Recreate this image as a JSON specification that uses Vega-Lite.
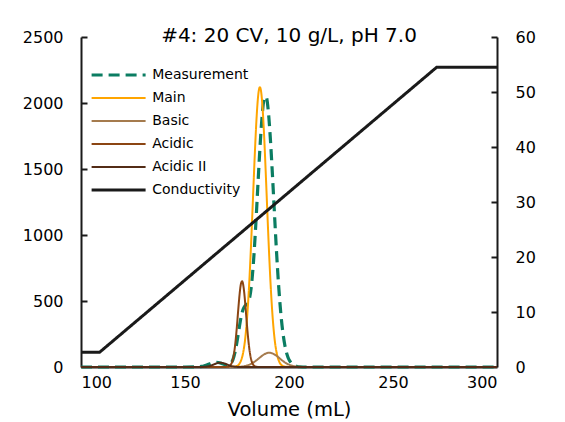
{
  "$schema": "https://vega.github.io/schema/vega-lite/v6.json",
  "width": 416,
  "height": 330,
  "autosize": "none",
  "padding": {"left": 81, "top": 37, "right": 68, "bottom": 55},
  "background": "white",
  "config": {
    "view": {"stroke": null},
    "font": "DejaVu Sans",
    "axis": {"grid": false, "domainColor": "#1a1a1a", "domainWidth": 2, "tickColor": "#1a1a1a", "tickWidth": 2, "labelColor": "#000000", "labelFont": "DejaVu Sans", "labelFontSize": 16, "titleFont": "DejaVu Sans", "titleFontWeight": "normal", "titleColor": "#000000", "format": "d"}
  },
  "title": {"text": "#4: 20 CV, 10 g/L, pH 7.0", "font": "DejaVu Sans", "fontSize": 20, "fontWeight": "normal", "color": "#000000", "anchor": "middle", "offset": -17},
  "data": {"values": [
    {"x":100,"y":0,"s":"Measurement"},{"x":150,"y":0,"s":"Measurement"},{"x":155,"y":1,"s":"Measurement"},{"x":158,"y":5,"s":"Measurement"},{"x":159,"y":8,"s":"Measurement"},{"x":160,"y":13,"s":"Measurement"},{"x":161,"y":18,"s":"Measurement"},{"x":162,"y":24,"s":"Measurement"},{"x":163,"y":30,"s":"Measurement"},{"x":164,"y":34,"s":"Measurement"},{"x":165,"y":35,"s":"Measurement"},{"x":166,"y":34,"s":"Measurement"},{"x":167,"y":30,"s":"Measurement"},{"x":168,"y":24,"s":"Measurement"},{"x":169,"y":18,"s":"Measurement"},{"x":170,"y":15,"s":"Measurement"},{"x":171,"y":15,"s":"Measurement"},{"x":172,"y":26,"s":"Measurement"},{"x":173,"y":54,"s":"Measurement"},{"x":174,"y":109,"s":"Measurement"},{"x":175,"y":191,"s":"Measurement"},{"x":176,"y":290,"s":"Measurement"},{"x":177,"y":381,"s":"Measurement"},{"x":178,"y":439,"s":"Measurement"},{"x":179,"y":466,"s":"Measurement"},{"x":180,"y":478,"s":"Measurement"},{"x":181,"y":519,"s":"Measurement"},{"x":182,"y":627,"s":"Measurement"},{"x":183,"y":813,"s":"Measurement"},{"x":184,"y":1070,"s":"Measurement"},{"x":185,"y":1364,"s":"Measurement"},{"x":186,"y":1651,"s":"Measurement"},{"x":187,"y":1886,"s":"Measurement"},{"x":188,"y":2026,"s":"Measurement"},{"x":189,"y":2047,"s":"Measurement"},{"x":190,"y":1947,"s":"Measurement"},{"x":191,"y":1740,"s":"Measurement"},{"x":192,"y":1467,"s":"Measurement"},{"x":193,"y":1165,"s":"Measurement"},{"x":194,"y":874,"s":"Measurement"},{"x":195,"y":620,"s":"Measurement"},{"x":196,"y":418,"s":"Measurement"},{"x":197,"y":268,"s":"Measurement"},{"x":198,"y":165,"s":"Measurement"},{"x":199,"y":98,"s":"Measurement"},{"x":200,"y":56,"s":"Measurement"},{"x":201,"y":32,"s":"Measurement"},{"x":202,"y":18,"s":"Measurement"},{"x":203,"y":7,"s":"Measurement"},{"x":204,"y":4,"s":"Measurement"},{"x":205,"y":2,"s":"Measurement"},{"x":210,"y":0,"s":"Measurement"},{"x":300,"y":0,"s":"Measurement"},
    {"x":100,"y":0,"s":"Main"},{"x":170,"y":0,"s":"Main"},{"x":174,"y":3,"s":"Main"},{"x":175,"y":8,"s":"Main"},{"x":176,"y":21,"s":"Main"},{"x":177,"y":52,"s":"Main"},{"x":178,"y":112,"s":"Main"},{"x":179,"y":223,"s":"Main"},{"x":180,"y":406,"s":"Main"},{"x":180.5,"y":529,"s":"Main"},{"x":181,"y":673,"s":"Main"},{"x":181.5,"y":837,"s":"Main"},{"x":182,"y":1017,"s":"Main"},{"x":182.5,"y":1208,"s":"Main"},{"x":183,"y":1402,"s":"Main"},{"x":183.5,"y":1591,"s":"Main"},{"x":184,"y":1764,"s":"Main"},{"x":184.5,"y":1912,"s":"Main"},{"x":185,"y":2025,"s":"Main"},{"x":185.5,"y":2096,"s":"Main"},{"x":186,"y":2120,"s":"Main"},{"x":186.5,"y":2096,"s":"Main"},{"x":187,"y":2025,"s":"Main"},{"x":187.5,"y":1912,"s":"Main"},{"x":188,"y":1764,"s":"Main"},{"x":188.5,"y":1591,"s":"Main"},{"x":189,"y":1402,"s":"Main"},{"x":189.5,"y":1208,"s":"Main"},{"x":190,"y":1017,"s":"Main"},{"x":190.5,"y":837,"s":"Main"},{"x":191,"y":673,"s":"Main"},{"x":191.5,"y":529,"s":"Main"},{"x":192,"y":406,"s":"Main"},{"x":193,"y":223,"s":"Main"},{"x":194,"y":112,"s":"Main"},{"x":195,"y":52,"s":"Main"},{"x":196,"y":21,"s":"Main"},{"x":197,"y":8,"s":"Main"},{"x":198,"y":3,"s":"Main"},{"x":202,"y":0,"s":"Main"},{"x":300,"y":0,"s":"Main"},
    {"x":100,"y":0,"s":"Basic"},{"x":170,"y":0,"s":"Basic"},{"x":174,"y":0.5,"s":"Basic"},{"x":176,"y":1.6,"s":"Basic"},{"x":178,"y":4.7,"s":"Basic"},{"x":180,"y":12,"s":"Basic"},{"x":182,"y":25.5,"s":"Basic"},{"x":184,"y":46,"s":"Basic"},{"x":186,"y":72,"s":"Basic"},{"x":188,"y":95,"s":"Basic"},{"x":190,"y":107.5,"s":"Basic"},{"x":191,"y":107.5,"s":"Basic"},{"x":192,"y":103,"s":"Basic"},{"x":194,"y":85,"s":"Basic"},{"x":196,"y":59,"s":"Basic"},{"x":198,"y":35,"s":"Basic"},{"x":200,"y":18,"s":"Basic"},{"x":202,"y":7.7,"s":"Basic"},{"x":204,"y":2.8,"s":"Basic"},{"x":206,"y":0.9,"s":"Basic"},{"x":210,"y":0,"s":"Basic"},{"x":300,"y":0,"s":"Basic"},
    {"x":100,"y":0,"s":"Acidic"},{"x":168,"y":0,"s":"Acidic"},{"x":170,"y":1,"s":"Acidic"},{"x":171,"y":4,"s":"Acidic"},{"x":172,"y":17,"s":"Acidic"},{"x":173,"y":58,"s":"Acidic"},{"x":174,"y":153,"s":"Acidic"},{"x":174.5,"y":227,"s":"Acidic"},{"x":175,"y":316,"s":"Acidic"},{"x":175.5,"y":414,"s":"Acidic"},{"x":176,"y":509,"s":"Acidic"},{"x":176.5,"y":588,"s":"Acidic"},{"x":177,"y":637,"s":"Acidic"},{"x":177.5,"y":650,"s":"Acidic"},{"x":178,"y":621,"s":"Acidic"},{"x":178.5,"y":559,"s":"Acidic"},{"x":179,"y":472,"s":"Acidic"},{"x":179.5,"y":375,"s":"Acidic"},{"x":180,"y":279,"s":"Acidic"},{"x":180.5,"y":196,"s":"Acidic"},{"x":181,"y":129,"s":"Acidic"},{"x":182,"y":46,"s":"Acidic"},{"x":183,"y":13,"s":"Acidic"},{"x":184,"y":3,"s":"Acidic"},{"x":186,"y":0,"s":"Acidic"},{"x":300,"y":0,"s":"Acidic"},
    {"x":100,"y":0,"s":"Acidic II"},{"x":155,"y":0,"s":"Acidic II"},{"x":158,"y":0.4,"s":"Acidic II"},{"x":160,"y":2.2,"s":"Acidic II"},{"x":162,"y":8.2,"s":"Acidic II"},{"x":164,"y":20,"s":"Acidic II"},{"x":165,"y":26.4,"s":"Acidic II"},{"x":166,"y":31.2,"s":"Acidic II"},{"x":167,"y":33,"s":"Acidic II"},{"x":168,"y":31.2,"s":"Acidic II"},{"x":169,"y":26.4,"s":"Acidic II"},{"x":170,"y":20,"s":"Acidic II"},{"x":172,"y":8.2,"s":"Acidic II"},{"x":174,"y":2.2,"s":"Acidic II"},{"x":176,"y":0.4,"s":"Acidic II"},{"x":179,"y":0,"s":"Acidic II"},{"x":300,"y":0,"s":"Acidic II"},
    {"x":100,"y":2.7,"s":"Conductivity"},{"x":109,"y":2.7,"s":"Conductivity"},{"x":271,"y":54.5,"s":"Conductivity"},{"x":300,"y":54.5,"s":"Conductivity"}
  ]},
  "encoding": {
    "x": {"field": "x", "type": "quantitative", "scale": {"domain": [100, 300], "nice": false}, "axis": {"values": [100, 150, 200, 250, 300], "ticks": false, "labelPadding": 7, "title": "Volume (mL)", "titleFontSize": 19.5, "titlePadding": 10}},
    "color": {"field": "s", "type": "nominal", "scale": {"domain": ["Measurement", "Main", "Basic", "Acidic", "Acidic II", "Conductivity"], "range": ["#0B7D62", "#FFA500", "#A57B4E", "#8B4513", "#532C16", "#1A1A1A"]},
      "legend": {"title": null, "orient": "none", "legendX": 30.6, "legendY": 31, "symbolType": "M-5,0H5", "symbolSize": 116.6, "symbolStrokeWidth": 2.5, "labelFontSize": 14, "labelFont": "DejaVu Sans", "labelColor": "#000000", "labelOffset": 26.6, "rowPadding": 9}},
    "strokeDash": {"field": "s", "type": "nominal", "scale": {"domain": ["Measurement", "Main", "Basic", "Acidic", "Acidic II", "Conductivity"], "range": [[11, 6], [1, 0], [1, 0], [1, 0], [1, 0], [1, 0]]}, "legend": null},
    "strokeWidth": {"field": "s", "type": "ordinal", "scale": {"type": "ordinal", "domain": ["Measurement", "Main", "Basic", "Acidic", "Acidic II", "Conductivity"], "range": [3.2, 2, 2, 2, 2, 3]}, "legend": null}
  },
  "layer": [
    {
      "transform": [{"filter": "datum.s != 'Conductivity'"}],
      "mark": {"type": "line", "interpolate": "monotone"},
      "encoding": {
        "y": {"field": "y", "type": "quantitative", "scale": {"domain": [0, 2500], "nice": false}, "axis": {"orient": "left", "values": [0, 500, 1000, 1500, 2000, 2500], "ticks": false, "labelPadding": 18, "title": null}}
      }
    },
    {
      "transform": [{"filter": "datum.s == 'Conductivity'"}],
      "mark": {"type": "line"},
      "encoding": {
        "y": {"field": "y", "type": "quantitative", "scale": {"domain": [0, 60], "nice": false}, "axis": {"orient": "right", "values": [0, 10, 20, 30, 40, 50, 60], "ticks": false, "labelPadding": 18, "title": null}}
      }
    },
    {
      "transform": [{"filter": "datum.s == 'Conductivity'"}],
      "mark": {"type": "line", "opacity": 0},
      "encoding": {
        "y": {"field": "y", "type": "quantitative", "scale": {"domain": [0, 2500], "nice": false}, "axis": {"orient": "left", "values": [500, 1000, 1500, 2000, 2500], "offset": -6, "domain": false, "labels": false, "ticks": true, "tickSize": 6, "title": null}}
      }
    },
    {
      "transform": [{"filter": "datum.s == 'Conductivity'"}],
      "mark": {"type": "line", "opacity": 0},
      "encoding": {
        "y": {"field": "y", "type": "quantitative", "scale": {"domain": [0, 60], "nice": false}, "axis": {"orient": "right", "values": [10, 20, 30, 40, 50, 60], "offset": -6, "domain": false, "labels": false, "ticks": true, "tickSize": 6, "title": null}}
      }
    }
  ],
  "resolve": {"scale": {"y": "independent"}}
}
